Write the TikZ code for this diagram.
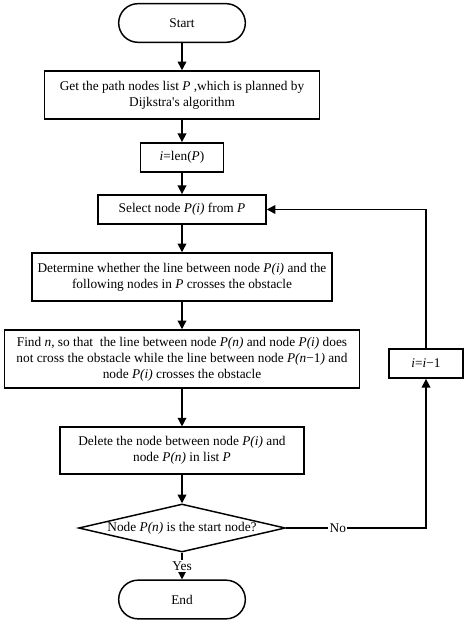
\documentclass[tikz,border=0pt]{standalone}
\usepackage{fontspec}
\setmainfont{Liberation Serif}
\usetikzlibrary{arrows.meta,shapes.geometric}

\begin{document}
\begin{tikzpicture}[x=0.75pt,y=-0.75pt,line width=1.1pt,
    >={Triangle[length=6.5pt,width=6.5pt]},
    every node/.style={font=\fontsize{10}{12}\selectfont,align=center,inner sep=0pt},
    terminal/.style={draw,rounded corners=14.5pt,minimum width=95pt,minimum height=29pt},
    process/.style={draw,minimum height=22pt},
    decision/.style={draw,diamond,aspect=4.3,minimum width=155pt,minimum height=36pt},
    label/.style={fill=white,inner sep=1pt}]
  \useasboundingbox (0,0) rectangle (474,623);
  \path (182, 23) node [terminal] (start) {Start}
        (182, 95) node [process,minimum width=206pt,minimum height=36pt] (getpath)
          {Get the path nodes list \textit{P} ,which is planned by\\Dijkstra\textquotesingle s algorithm}
        (182, 157.5) node [process,minimum width=62pt] (init) {\textit{i}=len(\textit{P})}
        (182, 209.5) node [process,minimum width=126pt] (select) {Select node \textit{P(i)} from \textit{P}}
        (182, 277) node [process,minimum width=225pt,minimum height=36pt] (determine)
          {Determine whether the line between node \textit{P(i)} and the\\following nodes in \textit{P} crosses the obstacle}
        (182, 359) node [process,minimum width=266pt,minimum height=43.5pt] (find)
          {Find \textit{n}, so that \ the line between node \textit{P(n)} and node \textit{P(i)} does\\
           not cross the obstacle while the line between node \textit{P(n}−1\textit{)} and\\
           node \textit{P(i)} crosses the obstacle}
        (182, 450.5) node [process,minimum width=183pt,minimum height=35pt] (delete)
          {Delete the node between node \textit{P(i)} and\\node \textit{P(n)} in list \textit{P}}
        (182, 528) node [decision] (check) {Node \textit{P(n)} is the start node?}
        (182, 599.5) node [terminal] (stop) {End}
        (426, 363.5) node [process,minimum width=55.5pt] (decrement) {\textit{i}=\textit{i}−1};
  \draw [->] (start) to (getpath);
  \draw [->] (getpath) to (init);
  \draw [->] (init) to (select);
  \draw [->] (select) to (determine);
  \draw [->] (determine) to (find);
  \draw [->] (find) to (delete);
  \draw [->] (delete) to (check);
  \draw [->] (check) to node [label] {Yes} (stop);
  \draw [->] (check.east) -- (decrement |- check) node [label,pos=0.37] {No} -- (decrement.south);
  \draw [->] (decrement.north) |- (select.east);
\end{tikzpicture}
\end{document}
